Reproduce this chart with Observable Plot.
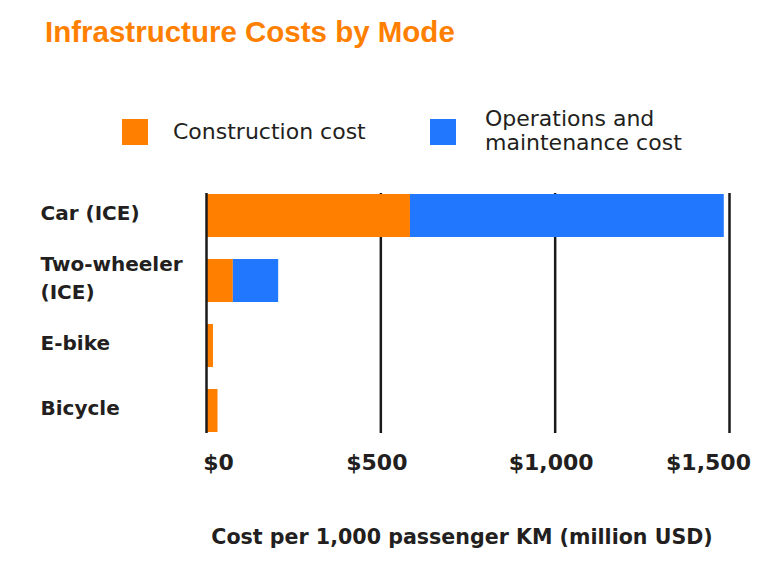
<!DOCTYPE html>
<html>
<head>
<meta charset="utf-8">
<script src="https://cdn.jsdelivr.net/npm/d3@7"></script>
<script src="https://cdn.jsdelivr.net/npm/@observablehq/plot@0.6"></script>
<style>
  html, body { margin: 0; padding: 0; background: #fff; }
  #chart { position: relative; width: 768px; height: 567px; overflow: hidden; color: #231f20; }
  #header { position: relative; width: 768px; height: 170px; }
  .title {
    position: absolute; left: 45px; top: 17px; margin: 0;
    font: bold 29.5px/29.5px "Liberation Sans", Arial, sans-serif; color: #ff8000; white-space: nowrap;
  }
  .swatch { position: absolute; width: 26px; height: 26px; }
  .key {
    position: absolute; margin: 0; white-space: pre;
    font: 22px/24px "DejaVu Sans", sans-serif; color: #231f20;
  }
  #plot svg { display: block; }
</style>
</head>
<body>
<div id="chart">
  <div id="header">
    <div class="title">Infrastructure Costs by Mode</div>
  </div>
  <div id="plot"></div>
</div>
<script>
// Transport modes, top to bottom, and how each is labelled on the left
const modes = ["Car (ICE)", "Two-wheeler (ICE)", "E-bike", "Bicycle"];
const modeLabels = ["Car (ICE)", "Two-wheeler\n(ICE)", "E-bike", "Bicycle"];

// Cost components (million USD per 1,000 passenger km)
const components = ["Construction cost", "Operations and maintenance cost"];
const componentLabels = ["Construction cost", "Operations and\nmaintenance cost"];
const constructionCost = [585, 77, 20, 33];
const operationsCost = [900, 130, 0, 0];

// Axis ticks and colours
const xTicks = [0, 500, 1000, 1500];
const componentColors = ["#ff8000", "#2277ff"];
const xTitle = "Cost per 1,000 passenger KM (million USD)";

// Long-format table for the stacked bars
const rows = modes.flatMap((mode, i) => [
  {mode, component: components[0], value: constructionCost[i]},
  {mode, component: components[1], value: operationsCost[i]}
]);

// Legend: swatch + label for each component
const header = document.getElementById("header");
const legendPlaces = [
  {swatchLeft: 122, swatchTop: 119, textLeft: 173, textTop: 120},
  {swatchLeft: 430, swatchTop: 119, textLeft: 485, textTop: 106.5}
];
components.forEach((c, i) => {
  const sw = document.createElement("div");
  sw.className = "swatch";
  sw.style.left = legendPlaces[i].swatchLeft + "px";
  sw.style.top = legendPlaces[i].swatchTop + "px";
  sw.style.background = componentColors[i];
  header.appendChild(sw);
  const t = document.createElement("div");
  t.className = "key";
  t.style.left = legendPlaces[i].textLeft + "px";
  t.style.top = legendPlaces[i].textTop + "px";
  t.textContent = componentLabels[i];
  header.appendChild(t);
});

const fmt = d => "$" + d3.format(",")(d);
const tickStyle = {tickSize: 0, tickPadding: 21, tickFormat: fmt, fontSize: 22, fontWeight: "bold", fill: "#231f20"};

const plot = Plot.plot({
  width: 768,
  height: 397,
  marginTop: 23,
  marginBottom: 134,
  marginLeft: 206,
  marginRight: 39,
  style: {background: "#fff", color: "#231f20", fontFamily: "'DejaVu Sans', sans-serif"},
  x: {domain: [0, 1500], axis: null, label: null},
  y: {domain: modes, paddingInner: 0.34, paddingOuter: 0, axis: null, label: null},
  color: {domain: components, range: componentColors},
  marks: [
    Plot.ruleX(xTicks.slice(1), {stroke: "#1a1a1a", strokeWidth: 2.5}),
    Plot.barX(rows, {y: "mode", x: "value", fill: "component"}),
    Plot.ruleX([0], {stroke: "#1a1a1a", strokeWidth: 2.5}),
    // tick labels sit a little inside the outer gridlines
    Plot.axisX([xTicks[0]], {...tickStyle, dx: 12}),
    Plot.axisX(xTicks.slice(1, -1), {...tickStyle, dx: -4}),
    Plot.axisX([xTicks[xTicks.length - 1]], {...tickStyle, dx: -21}),
    Plot.text(modes, {
      y: d => d,
      text: (d, i) => modeLabels[i],
      frameAnchor: "left", textAnchor: "start", dx: -166, dy: -5,
      lineHeight: 1.42,
      fontSize: 20, fontWeight: "bold", fill: "#231f20"
    }),
    Plot.text([xTitle], {
      text: d => d,
      frameAnchor: "bottom", lineAnchor: "middle", dy: 104, dx: -6,
      fontSize: 20.6, fontWeight: "bold", fill: "#231f20"
    })
  ]
});
document.getElementById("plot").appendChild(plot);
</script>
</body>
</html>
